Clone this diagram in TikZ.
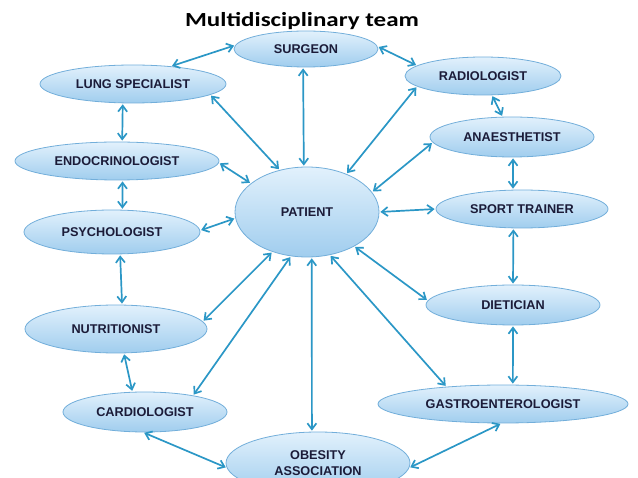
\documentclass[tikz,border=0pt]{standalone}
\usepackage{fontspec}
\setmainfont{Carlito}
\setsansfont{Liberation Sans}
\usepackage{tikz}
\usetikzlibrary{shapes.geometric,arrows.meta}
\definecolor{LinkBlue}{HTML}{2B97C6}
\definecolor{RimBlue}{HTML}{72AEDA}
\definecolor{TopBlue}{HTML}{E2F1FC}
\definecolor{LowBlue}{HTML}{A0CDEE}
\definecolor{InkNavy}{HTML}{1B1B38}

\begin{document}
\begin{tikzpicture}[
    x=1pt, y=-1pt,
    role/.style={ellipse, draw=RimBlue, line width=0.8pt, top color=TopBlue, bottom color=LowBlue, inner sep=0pt,
      font=\sffamily\bfseries\fontsize{12.7}{16}\selectfont, text=InkNavy, align=center},
    arr/.style={{Straight Barb[length=6pt,width=9pt]}-{Straight Barb[length=6pt,width=9pt]}, draw=LinkBlue, line width=1.7pt, shorten <=1pt, shorten >=1pt}
  ]
    \useasboundingbox (0,0) rectangle (638,478);
    \clip (0,0) rectangle (638,478);

    \node[font=\bfseries\fontsize{20}{22}\selectfont, anchor=base] (title) at (302,27) {\scalebox{1.25}[1]{Multidisciplinary team}};

    \node[role, minimum width=144pt, minimum height=36pt] (surgeon) at (306,49) {SURGEON};
    \node[role, minimum width=186pt, minimum height=38pt] (lung) at (133,84) {LUNG SPECIALIST};
    \node[role, minimum width=204pt, minimum height=38pt] (endo) at (117,161) {ENDOCRINOLOGIST};
    \node[role, minimum width=176pt, minimum height=44pt] (psych) at (112,232) {PSYCHOLOGIST};
    \node[role, minimum width=182pt, minimum height=48pt] (nutri) at (116,329) {NUTRITIONIST};
    \node[role, minimum width=164pt, minimum height=40pt] (cardio) at (145,412) {CARDIOLOGIST};
    \node[role, minimum width=184pt, minimum height=62pt] (obesity) at (318,463) {OBESITY\\ASSOCIATION};
    \node[role, minimum width=144pt, minimum height=90pt] (patient) at (307,212) {PATIENT};
    \node[role, minimum width=156pt, minimum height=38pt] (radio) at (483,76) {RADIOLOGIST};
    \node[role, minimum width=164pt, minimum height=40pt] (anaes) at (512,137) {ANAESTHETIST};
    \node[role, minimum width=172pt, minimum height=38pt] (sport) at (522,209) {SPORT TRAINER};
    \node[role, minimum width=174pt, minimum height=40pt] (diet) at (513,305) {DIETICIAN};
    \node[role, minimum width=250pt, minimum height=38pt] (gastro) at (503,404) {GASTROENTEROLOGIST};

    % left column
    \draw[arr] (lung.25) -- (surgeon.177);
    \draw[arr] (lung.242) -- (endo.75);
    \draw[arr] (endo.286) -- (psych.65);
    \draw[arr] (psych.290) -- (nutri.76);
    \draw[arr] (nutri.288) -- (cardio.122);
    \draw[arr] (cardio.265) -- (obesity.183);

    % right column
    \draw[arr] (surgeon.2) -- (radio.171);
    \draw[arr] (radio.295) -- (anaes.115);
    \draw[arr] (anaes.273) -- (sport.115);
    \draw[arr] (sport.246) -- (diet.90);
    \draw[arr] (diet.270) -- (gastro.63);
    \draw[arr] (gastro.265) -- (obesity.357);

    % spokes to the patient
    \draw[arr] (surgeon.261) -- (patient.94);
    \draw[arr] (lung.352) -- (patient.123);
    \draw[arr] (endo.359) -- (patient.153);
    \draw[arr] (psych.1) -- (patient.185);
    \draw[arr] (nutri.5) -- (patient.229);
    \draw[arr] (cardio.19) -- (patient.250);
    \draw[arr] (obesity.101) -- (patient.276);
    \draw[arr] (gastro.163) -- (patient.298);
    \draw[arr] (diet.177) -- (patient.324);
    \draw[arr] (sport.180) -- (patient.0);
    \draw[arr] (anaes.184) -- (patient.17);
    \draw[arr] (radio.189) -- (patient.44);
  \end{tikzpicture}
\end{document}
